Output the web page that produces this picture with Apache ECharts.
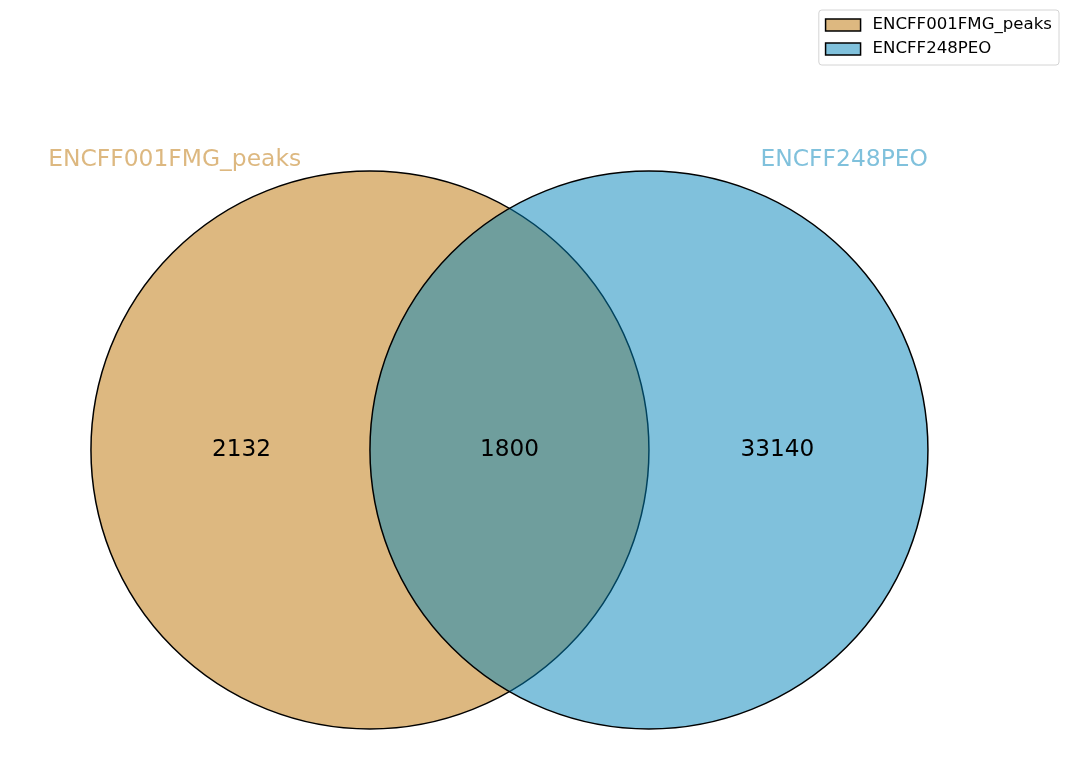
<!DOCTYPE html>
<html>
<head>
<meta charset="utf-8">
<script src="https://cdn.jsdelivr.net/npm/echarts@6/dist/echarts.min.js"></script>
<style>html,body{margin:0;padding:0;background:#fff}#c{width:1068px;height:772px}</style>
</head>
<body>
<div id="c"></div>
<script>
// ---- data ----
const setNames = ['ENCFF001FMG_peaks', 'ENCFF248PEO'];
const regionNames = ['only ENCFF001FMG_peaks', 'both', 'only ENCFF248PEO'];
const regionCounts = [2132, 1800, 33140];

// ---- layout (unweighted 2-set venn, data units) ----
const circleCenterX = [0.375, 0.625];
const circleCenterY = 0.3;
const circleRadius = 0.25;
const countPosX = [0.26, 0.50, 0.74];
const countPosY = 0.30;
const setLabelPosX = [0.20, 0.80];
const setLabelPosY = 0.56;

// ---- styles ----
const setColors = ['rgba(187,113,1,0.5)', 'rgba(1,131,185,0.5)'];
const FONT = 'DejaVu Sans';

const chart = echarts.init(document.getElementById('c'), null, {renderer: 'canvas'});

const circleSeries = setNames.map((name, i) => ({
  name: name,
  type: 'custom',
  coordinateSystem: 'cartesian2d',
  data: [[circleCenterX[i], circleCenterY, circleRadius]],
  encode: {x: 0, y: 1},
  z: 2 + i,
  silent: true,
  renderItem: function (params, api) {
    const c = api.coord([api.value(0), api.value(1)]);
    const r = api.size([api.value(2), 0])[0];
    return {
      type: 'circle',
      shape: {cx: c[0], cy: c[1], r: r},
      style: {fill: setColors[i], stroke: '#000', lineWidth: 1.5}
    };
  }
}));

const countSeries = {
  name: 'counts',
  type: 'custom',
  coordinateSystem: 'cartesian2d',
  data: regionCounts.map((v, i) => [countPosX[i], countPosY, v]),
  encode: {x: 0, y: 1},
  z: 10,
  silent: true,
  renderItem: function (params, api) {
    const c = api.coord([api.value(0), api.value(1)]);
    return {
      type: 'text',
      style: {
        text: String(api.value(2)), x: c[0], y: c[1],
        fill: '#000', font: '23.2px "' + FONT + '"',
        align: 'center', verticalAlign: 'middle'
      }
    };
  }
};

const setLabelSeries = {
  name: 'setLabels',
  type: 'custom',
  coordinateSystem: 'cartesian2d',
  data: setNames.map((n, i) => [setLabelPosX[i], setLabelPosY, i]),
  encode: {x: 0, y: 1},
  z: 10,
  silent: true,
  renderItem: function (params, api) {
    const c = api.coord([api.value(0), api.value(1)]);
    const i = api.value(2);
    return {
      type: 'text',
      style: {
        text: setNames[i], x: c[0], y: c[1],
        fill: setColors[i], font: '23.4px "' + FONT + '"',
        align: 'center', verticalAlign: 'middle'
      }
    };
  }
};

chart.setOption({
  animation: false,
  backgroundColor: '#ffffff',
  grid: {left: 0, right: 0, top: 0, bottom: 0, containLabel: false},
  xAxis: {type: 'value', min: 0.0435, max: 1.0005, show: false},
  yAxis: {type: 'value', min: 0.0115, max: 0.7032, show: false},
  legend: {
    orient: 'vertical',
    right: 9,
    top: 10,
    padding: [5, 7, 6, 6],
    itemWidth: 35,
    itemHeight: 12,
    itemGap: 4,
    borderColor: '#d4d4d4',
    borderWidth: 1,
    borderRadius: 3,
    backgroundColor: 'rgba(255,255,255,0.8)',
    selectedMode: false,
    textStyle: {fontFamily: FONT, fontSize: 16.6, color: '#000', lineHeight: 20, padding: [0, 0, 0, 7]},
    data: setNames.map((n, i) => ({
      name: n,
      icon: 'rect',
      itemStyle: {color: setColors[i], borderColor: '#000', borderWidth: 1.5}
    }))
  },
  series: [...circleSeries, countSeries, setLabelSeries]
});
</script>
</body>
</html>
